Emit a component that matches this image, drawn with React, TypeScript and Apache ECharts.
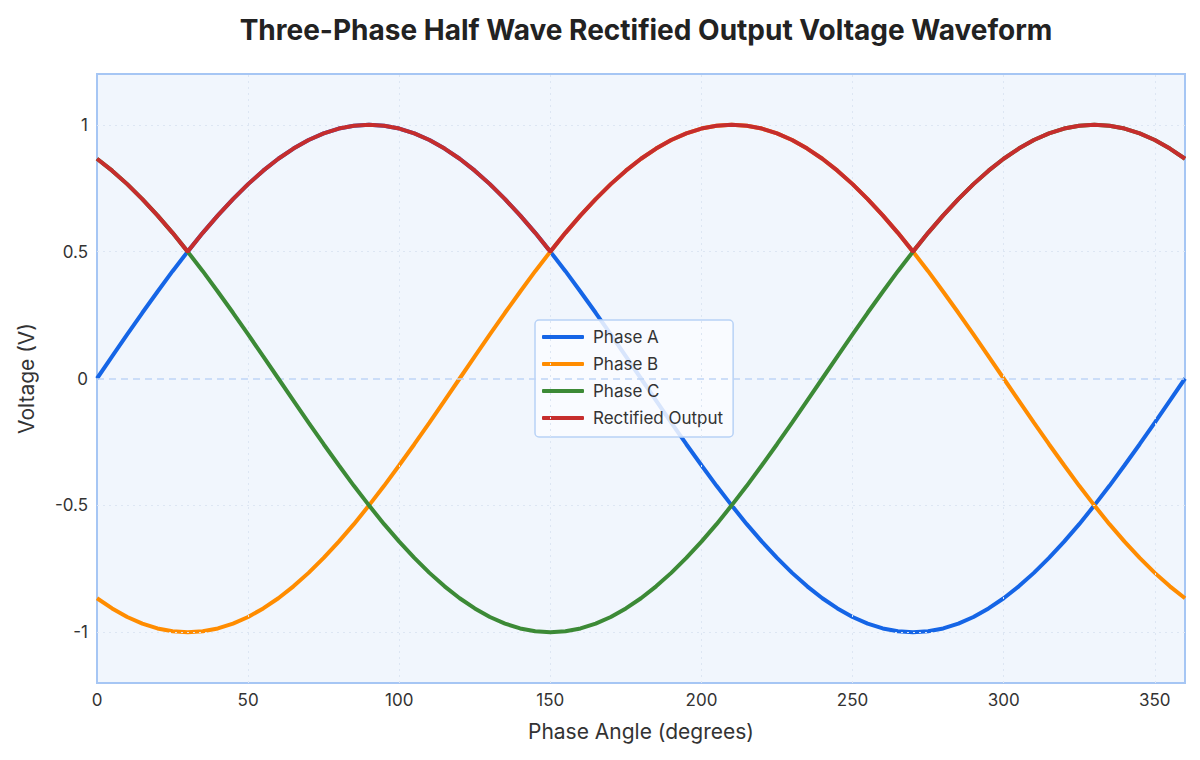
import React, { useEffect, useRef } from "react";
import * as echarts from "echarts";

const angles = [
  0, 5, 10, 15, 20, 25, 30, 35, 40, 45, 50, 55, 60, 65, 70, 75, 80, 85, 90,
  95, 100, 105, 110, 115, 120, 125, 130, 135, 140, 145, 150, 155, 160, 165, 170, 175, 180,
  185, 190, 195, 200, 205, 210, 215, 220, 225, 230, 235, 240, 245, 250, 255, 260, 265, 270,
  275, 280, 285, 290, 295, 300, 305, 310, 315, 320, 325, 330, 335, 340, 345, 350, 355, 360,
];

const phaseA = [
  0, 0.087, 0.174, 0.259, 0.342, 0.423, 0.5, 0.574, 0.643, 0.707, 0.766, 0.819, 0.866, 0.906, 0.94, 0.966, 0.985, 0.996, 1,
  0.996, 0.985, 0.966, 0.94, 0.906, 0.866, 0.819, 0.766, 0.707, 0.643, 0.574, 0.5, 0.423, 0.342, 0.259, 0.174, 0.087, 0,
  -0.087, -0.174, -0.259, -0.342, -0.423, -0.5, -0.574, -0.643, -0.707, -0.766, -0.819, -0.866, -0.906, -0.94, -0.966, -0.985, -0.996, -1,
  -0.996, -0.985, -0.966, -0.94, -0.906, -0.866, -0.819, -0.766, -0.707, -0.643, -0.574, -0.5, -0.423, -0.342, -0.259, -0.174, -0.087, 0,
];

const phaseB = [
  -0.866, -0.906, -0.94, -0.966, -0.985, -0.996, -1, -0.996, -0.985, -0.966, -0.94, -0.906, -0.866, -0.819, -0.766, -0.707, -0.643, -0.574, -0.5,
  -0.423, -0.342, -0.259, -0.174, -0.087, 0, 0.087, 0.174, 0.259, 0.342, 0.423, 0.5, 0.574, 0.643, 0.707, 0.766, 0.819, 0.866,
  0.906, 0.94, 0.966, 0.985, 0.996, 1, 0.996, 0.985, 0.966, 0.94, 0.906, 0.866, 0.819, 0.766, 0.707, 0.643, 0.574, 0.5,
  0.423, 0.342, 0.259, 0.174, 0.087, 0, -0.087, -0.174, -0.259, -0.342, -0.423, -0.5, -0.574, -0.643, -0.707, -0.766, -0.819, -0.866,
];

const phaseC = [
  0.866, 0.819, 0.766, 0.707, 0.643, 0.574, 0.5, 0.423, 0.342, 0.259, 0.174, 0.087, 0, -0.087, -0.174, -0.259, -0.342, -0.423, -0.5,
  -0.574, -0.643, -0.707, -0.766, -0.819, -0.866, -0.906, -0.94, -0.966, -0.985, -0.996, -1, -0.996, -0.985, -0.966, -0.94, -0.906, -0.866,
  -0.819, -0.766, -0.707, -0.643, -0.574, -0.5, -0.423, -0.342, -0.259, -0.174, -0.087, 0, 0.087, 0.174, 0.259, 0.342, 0.423, 0.5,
  0.574, 0.643, 0.707, 0.766, 0.819, 0.866, 0.906, 0.94, 0.966, 0.985, 0.996, 1, 0.996, 0.985, 0.966, 0.94, 0.906, 0.866,
];

const rectified = [
  0.866, 0.819, 0.766, 0.707, 0.643, 0.574, 0.5, 0.574, 0.643, 0.707, 0.766, 0.819, 0.866, 0.906, 0.94, 0.966, 0.985, 0.996, 1,
  0.996, 0.985, 0.966, 0.94, 0.906, 0.866, 0.819, 0.766, 0.707, 0.643, 0.574, 0.5, 0.574, 0.643, 0.707, 0.766, 0.819, 0.866,
  0.906, 0.94, 0.966, 0.985, 0.996, 1, 0.996, 0.985, 0.966, 0.94, 0.906, 0.866, 0.819, 0.766, 0.707, 0.643, 0.574, 0.5,
  0.574, 0.643, 0.707, 0.766, 0.819, 0.866, 0.906, 0.94, 0.966, 0.985, 0.996, 1, 0.996, 0.985, 0.966, 0.94, 0.906, 0.866,
];

const yGridValues = [-1, -0.5, 0.5, 1];
const xGridValues = [50, 100, 150, 200, 250, 300, 350];

const seriesNames = ["Phase A", "Phase B", "Phase C", "Rectified Output"];
const seriesColors = ["#1565e6", "#ff8c00", "#3c8a36", "#c62d2d"];
const seriesValues = [phaseA, phaseB, phaseC, rectified];

const FONT = "Inter, 'DejaVu Sans', sans-serif";

export default function App() {
  const ref = useRef<HTMLDivElement>(null);

  useEffect(() => {
    if (!ref.current) return;
    const chart = echarts.init(ref.current, undefined, { renderer: "svg" });

    const lineSeries = seriesNames.map((name, i) => ({
      name,
      type: "line",
      data: angles.map((a, k) => [a, seriesValues[i][k]]),
      showSymbol: false,
      symbol: "none",
      smooth: false,
      z: 3 + i,
      lineStyle: { color: seriesColors[i], width: 4 },
      itemStyle: { color: seriesColors[i] },
    }));

    const option: any = {
      animation: false,
      backgroundColor: "#ffffff",
      textStyle: { fontFamily: FONT },
      title: {
        text: "Three-Phase Half Wave Rectified Output Voltage Waveform",
        left: 641,
        textAlign: "center",
        top: 11,
        textStyle: { fontFamily: FONT, fontSize: 28, fontWeight: "bold", color: "#222222" },
      },
      grid: {
        left: 97,
        right: 15,
        top: 74,
        bottom: 77,
        show: true,
        backgroundColor: "#f1f6fd",
        borderColor: "#a6c6f4",
        borderWidth: 2,
        containLabel: false,
      },
      legend: {
        data: seriesNames,
        orient: "vertical",
        left: 535,
        top: 320,
        icon: "roundRect",
        itemWidth: 42,
        itemHeight: 4,
        itemGap: 9,
        padding: [8, 10, 10, 7],
        backgroundColor: "rgba(250,252,255,0.85)",
        borderColor: "#b8d2f6",
        borderWidth: 1.5,
        borderRadius: 4,
        textStyle: { fontFamily: FONT, fontSize: 17, color: "#333333", lineHeight: 18, padding: [0, 0, 0, 4] },
      },
      xAxis: {
        type: "value",
        min: 0,
        max: 360,
        interval: 50,
        name: "Phase Angle (degrees)",
        nameLocation: "middle",
        nameGap: 38,
        nameTextStyle: { fontFamily: FONT, fontSize: 21, color: "#333333" },
        axisLine: { show: false },
        axisTick: { show: false },
        splitLine: { show: false },
        axisLabel: {
          showMaxLabel: false,
          margin: 8,
          fontFamily: FONT,
          fontSize: 17,
          color: "#333333",
        },
      },
      yAxis: {
        type: "value",
        min: -1.2,
        max: 1.2,
        interval: 0.1,
        name: "Voltage (V)",
        nameLocation: "middle",
        nameGap: 60,
        nameRotate: 90,
        nameTextStyle: { fontFamily: FONT, fontSize: 21, color: "#333333" },
        axisLine: { show: false },
        axisTick: { show: false },
        splitLine: { show: false },
        axisLabel: {
          margin: 9,
          fontFamily: FONT,
          fontSize: 17,
          color: "#333333",
          showMinLabel: false,
          showMaxLabel: false,
          formatter: (v: number) => {
            const r = Math.round(v * 100) / 100;
            if (Math.abs(r * 2 - Math.round(r * 2)) > 1e-6) return "";
            return String(r);
          },
        },
      },
      series: [
        {
          name: "grid",
          type: "line",
          data: [],
          z: 1,
          silent: true,
          markLine: {
            silent: true,
            symbol: "none",
            label: { show: false },
            lineStyle: { color: "#dde6f3", width: 1, type: [2, 4] },
            data: [
              ...yGridValues.map((v) => ({ yAxis: v })),
              ...xGridValues.map((v) => ({ xAxis: v })),
            ],
          },
        },
        {
          name: "zero",
          type: "line",
          data: [],
          z: 2,
          silent: true,
          markLine: {
            silent: true,
            symbol: "none",
            label: { show: false },
            lineStyle: { color: "#bfd5f6", width: 1.6, type: [7, 5] },
            data: [{ yAxis: 0 }],
          },
        },
        ...lineSeries,
      ],
    };

    chart.setOption(option);
    return () => chart.dispose();
  }, []);

  return <div ref={ref} style={{ width: 1200, height: 760, margin: -8 }} />;
}
